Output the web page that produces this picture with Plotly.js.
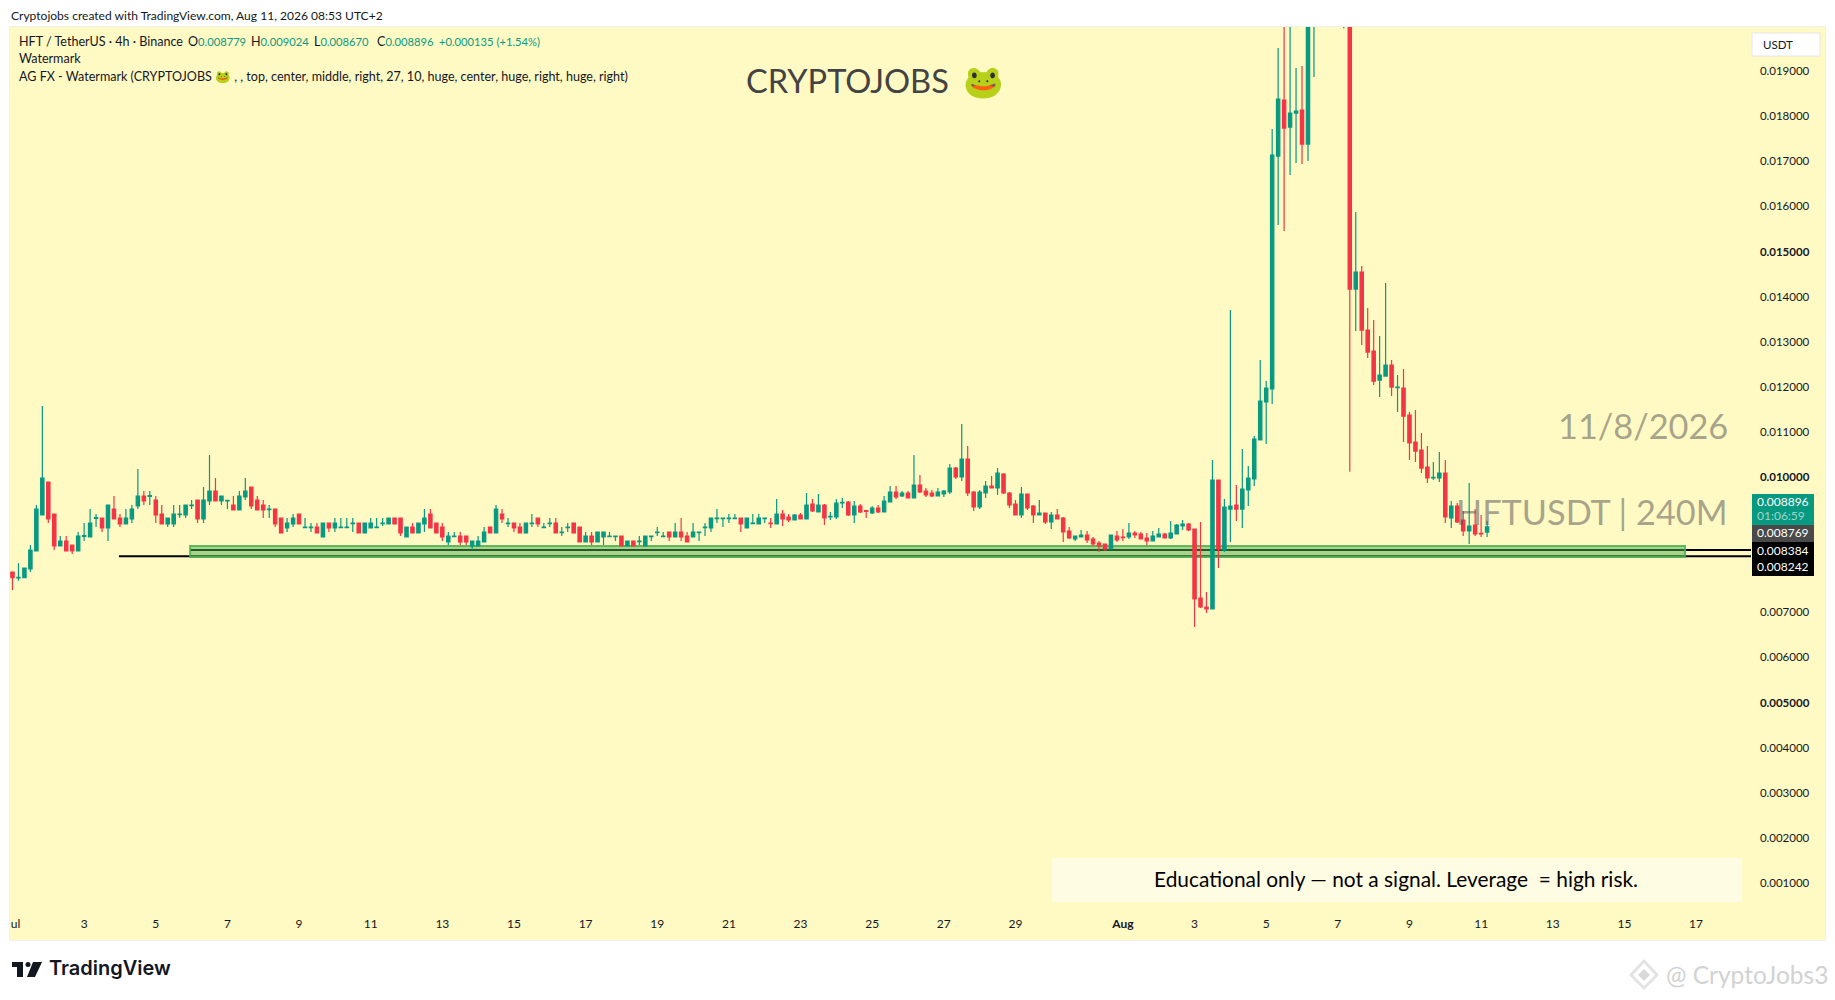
<!DOCTYPE html>
<html>
<head>
<meta charset="utf-8">
<script src="https://cdn.plot.ly/plotly-3.0.1.min.js"></script>
<style>html,body{margin:0;padding:0;background:#fff}#chart{width:1835px;height:1000px}</style>
</head>
<body>
<div id="chart"></div>
<script>
// Candle prices in millionths of a USDT, one candle every 4 hours from the first date
const firstCandle = '2026-07-01T00:00:00Z';
const opens = [
7894,7761,7768,7960,8359,9157,9889,9180,8470,8581,
8492,8359,8685,8670,9084,9091,8869,9290,9091,8958,
9069,9357,9579,9572,9490,9180,8958,8958,9165,9157,
9365,9490,9069,9468,9690,9468,9468,9379,9268,9557,
9778,9490,9379,9276,9290,9091,8869,8958,9180,8877,
8877,8891,8670,8980,8869,8877,8877,8966,8980,8758,
8869,8877,8966,8958,9091,9091,8670,8891,8758,8958,
9180,8980,8891,8559,8677,8692,8692,8470,8470,8559,
8891,8758,9180,8966,8980,8891,8758,8966,9091,8877,
8966,8980,8766,8877,8980,8891,8559,8692,8559,8670,
8677,8677,8692,8470,8581,8566,8470,8677,8766,8677,
8781,8670,8781,8692,8670,8766,8877,8869,9077,9077,
9077,9077,9091,8869,8966,8958,9077,8980,8958,9180,
9113,9047,9157,9069,9401,9224,9379,9113,9113,9424,
9446,9157,9357,9253,9202,9313,9224,9446,9667,9579,
9645,9534,9823,9690,9645,9579,9623,9667,10199,10000,
10399,9667,9335,9645,9800,9756,10066,9645,9401,9157,
9623,9357,9157,9202,9002,9157,9091,8803,8625,8670,
8714,8625,8537,8515,8404,8692,8670,8670,8758,8736,
8648,8581,8670,8736,8648,8736,8914,8958,8847,7317,
7118,7073,9933,8381,9290,9379,9290,9712,9956,10820,
11663,11951,17116,18358,17759,18070,18136,17383,22500,26000,
24500,28500,26500,24000,25500,14168,14545,13259,12793,12150,
12239,12483,11980,11973,11374,10776,10599,10222,9978,9978,
10089,9091,9357,9047,8803,8936,8751,8779];
const highs = [
7894,8086,7982,8492,9379,11574,9889,9180,8692,8692,
8492,8781,8980,9290,9180,9091,9379,9579,9180,9290,
9379,10177,9690,9690,9579,9379,9091,9379,9379,9379,
9490,9490,9778,10488,9978,9579,9490,9579,9690,9978,
9778,9579,9490,9379,9290,9091,9091,9180,9180,9091,
8980,8980,8980,8980,9091,9091,9091,9091,8980,8980,
9091,9091,9091,9091,9091,9091,8891,8980,8980,9290,
9290,8980,8980,8781,8781,8781,8692,8581,8692,8891,
8891,9379,9290,9091,8980,8980,8980,9180,9091,8980,
9091,9091,8891,8980,8980,8891,8781,8781,8781,8781,
8781,8692,8692,8581,8581,8692,8692,8692,8891,8781,
8781,8980,9091,8781,8980,8781,8980,9091,9290,9091,
9180,9180,9091,9091,9180,9180,9091,9091,9512,9268,
9180,9180,9202,9645,9512,9623,9401,9224,9512,9534,
9468,9468,9401,9268,9357,9379,9579,9800,9800,9690,
9690,10488,10044,9756,9712,9756,9712,10288,10222,11175,
10687,9690,9712,9911,10022,10199,10089,9667,9490,9778,
9623,9379,9490,9202,9224,9290,9113,8891,8692,8825,
8803,8670,8581,8515,8714,8803,8847,8980,8803,8781,
8758,8803,8869,8758,9024,8958,9047,8980,8847,9002,
7450,10377,9933,9512,13702,9823,10621,10244,10909,12594,
12128,17715,19511,20500,20800,19067,19112,24000,27500,29000,
30500,31000,28000,27500,26000,15875,14678,13747,13481,13126,
14301,12594,12261,12394,11441,11485,10975,10687,10332,10554,
10377,9468,9423,9246,9867,9290,9157,9024];
const lows = [
7495,7702,7768,7894,8359,9157,8980,8381,8470,8359,
8293,8359,8581,8670,8891,8781,8581,9069,8891,8958,
8980,9290,9379,9379,8980,8958,8891,8891,9091,9091,
9290,8980,8980,9379,9468,9379,9290,9268,9268,9490,
9290,9268,9091,9091,8891,8758,8781,8891,8958,8869,
8781,8758,8670,8781,8781,8869,8869,8781,8758,8758,
8869,8869,8914,8958,8958,8692,8670,8758,8758,8781,
8869,8758,8581,8492,8670,8492,8492,8381,8470,8559,
8758,8758,8980,8891,8781,8758,8758,8891,8891,8869,
8891,8758,8692,8781,8758,8559,8559,8492,8559,8492,
8670,8581,8470,8470,8470,8492,8470,8581,8692,8670,
8581,8670,8581,8559,8670,8581,8692,8781,8980,8891,
8980,9069,8781,8869,8958,8958,8980,8869,8958,8914,
9002,9047,9069,9069,9224,9224,8936,9047,9069,9313,
9135,8980,9202,9091,9180,9202,9224,9446,9512,9557,
9534,9534,9645,9557,9557,9579,9557,9623,9956,9911,
9579,9246,9290,9534,9756,9601,9623,9313,9157,9091,
9268,8980,9157,8958,8847,9069,8559,8625,8581,8670,
8537,8470,8337,8359,8404,8559,8581,8625,8648,8625,
8492,8581,8670,8648,8625,8736,8825,8803,6674,7096,
6985,7073,7982,8337,8559,9024,8869,9357,9800,10820,
10732,11618,15587,15454,16695,16961,16939,17006,18868,23500,
23800,25500,23000,19950,10118,13237,12926,12638,12040,11774,
12239,11796,11441,10776,10377,10332,10089,9867,9933,9889,
8980,8869,8980,8692,8515,8692,8670,8670];
const closes = [
7768,7776,7982,8381,9290,9978,9069,8470,8581,8359,
8359,8692,8699,8980,9098,8869,9379,9069,8958,9091,
9290,9579,9468,9586,9157,8958,9091,9180,9180,9379,
9379,9069,9490,9690,9468,9579,9482,9268,9579,9690,
9357,9268,9268,9290,8958,8758,8980,9091,8958,8891,
8891,8758,8980,8869,8980,8891,8891,8980,8758,8980,
8980,8891,8980,9091,8958,8758,8891,8758,8980,9091,
8869,8758,8670,8692,8692,8559,8559,8581,8581,8781,
8758,9290,9069,8980,8869,8758,8980,8980,8958,8891,
8980,8758,8781,8891,8758,8559,8692,8559,8781,8781,
8692,8692,8470,8581,8470,8581,8692,8692,8781,8692,
8670,8781,8670,8559,8781,8781,8891,9091,9091,9091,
9091,9091,8958,9091,8980,9091,9091,8966,9180,9069,
9047,9157,9069,9379,9246,9379,9091,9127,9423,9438,
9157,9357,9224,9239,9313,9224,9468,9667,9557,9645,
9534,9823,9667,9601,9579,9667,9690,10199,10000,10399,
9645,9335,9667,9800,9756,10089,9645,9379,9157,9623,
9313,9157,9202,9002,9157,9069,8781,8648,8692,8714,
8603,8515,8470,8404,8714,8603,8655,8758,8714,8625,
8581,8692,8736,8648,8758,8936,8958,8825,7295,7118,
7073,9933,8404,9335,9357,9290,9734,9978,10842,11685,
11973,17139,18380,17737,18070,18114,17383,22500,26000,24500,
28500,26500,24000,26000,14168,14545,13259,12771,12128,12261,
12483,11995,11995,11352,10754,10576,10199,9978,9992,10089,
9113,9357,9002,8803,8914,8736,8736,8896];

const priceTicks = [0.001,0.002,0.003,0.004,0.005,0.006,0.007,0.008,0.009,0.010,0.011,0.012,0.013,0.014,0.015,0.016,0.017,0.018,0.019];
const priceTickLabels = ['0.001000','0.002000','0.003000','0.004000','<b>0.005000</b>','0.006000','0.007000','','','<b>0.010000</b>','0.011000','0.012000','0.013000','0.014000','<b>0.015000</b>','0.016000','0.017000','0.018000','0.019000'];
const dateTicks = ['2026-07-01 02:00','2026-07-03','2026-07-05','2026-07-07','2026-07-09','2026-07-11','2026-07-13','2026-07-15','2026-07-17','2026-07-19','2026-07-21','2026-07-23','2026-07-25','2026-07-27','2026-07-29','2026-08-01','2026-08-03','2026-08-05','2026-08-07','2026-08-09','2026-08-11','2026-08-13','2026-08-15','2026-08-17'];
const dateTickLabels = ['ul','3','5','7','9','11','13','15','17','19','21','23','25','27','29','<b>Aug</b>','3','5','7','9','11','13','15','17'];
const zoneTop = 0.008470, zoneBottom = 0.008226;
const zoneStart = '2026-07-05 23:00', zoneEnd = '2026-08-16 16:36';
const levelUpper = 0.008384, levelLower = 0.008242;
const levelLowerStart = '2026-07-03 23:20', levelEnd = '2026-08-18 12:48';

const UP = '#089981', DOWN = '#F23645', BG = '#FFF9C4';
const FONT = 'Lato, "Noto Sans", sans-serif';
const L = 10, R = 1825, T = 27, B = 940;
const X = p => (p - L) / (R - L);
const Y = p => (B - p) / (B - T);
const scale = v => v / 1e6;
const times = opens.map((_, i) => new Date(Date.parse(firstCandle) + i * 4 * 3600e3).toISOString());

function box(x0, y0, x1, y1, fill, line) {
  return {type:'rect', xref:'paper', yref:'paper', x0:X(x0), x1:X(x1), y0:Y(y0), y1:Y(y1),
    fillcolor:fill, line:{color:line || 'rgba(0,0,0,0)', width:line ? 1 : 0}, layer:'above'};
}
function poly(points, fill) {
  const d = points.map((p, i) => (i ? 'L' : 'M') + X(p[0]) + ',' + Y(p[1])).join(' ') + ' Z';
  return {type:'path', xref:'paper', yref:'paper', path:d, fillcolor:fill, line:{width:0}, layer:'above'};
}
function label(text, px, py, size, color, anchor, extra) {
  return Object.assign({xref:'paper', yref:'paper', x:X(px), y:Y(py), text, showarrow:false,
    xanchor:anchor || 'left', yanchor:'middle', align:anchor || 'left',
    font:{family:FONT, size, color}, borderpad:0}, extra || {});
}
const g = s => '<span style="color:' + UP + ';font-size:11.2px">' + s + '</span>';

const shapes = [
  {type:'line', xref:'x', yref:'y', x0:levelLowerStart, x1:levelEnd, y0:levelLower, y1:levelLower, line:{color:'#000', width:2}, layer:'below'},
  {type:'line', xref:'x', yref:'y', x0:zoneStart, x1:levelEnd, y0:levelUpper, y1:levelUpper, line:{color:'#000', width:2}, layer:'below'},
  {type:'rect', xref:'x', yref:'y', x0:zoneStart, x1:zoneEnd, y0:zoneBottom, y1:zoneTop, fillcolor:'rgba(76,175,80,0.5)', line:{color:'rgba(76,175,80,0.85)', width:2}, layer:'below'},
  box(1052, 858, 1742, 902, '#FFFCE4'),
  box(1752, 33, 1820, 56, '#FFFFFF', '#E6E6E6'),
  box(1752, 494, 1814, 525, UP),
  box(1752, 525, 1814, 542, '#4A4A4A'),
  box(1752, 542, 1814, 576, '#000000'),
  // TradingView logo
  poly([[12,962],[23,962],[23,977],[17,977],[17,967],[12,967]], '#131722'),
  {type:'circle', xref:'paper', yref:'paper', x0:X(25.5), x1:X(30.5), y0:Y(967), y1:Y(962), fillcolor:'#131722', line:{width:0}, layer:'above'},
  poly([[33,962],[42,962],[35,977],[27,977]], '#131722'),
  // Faint mark of the re-poster
  poly([[1644,959],[1659,975],[1644,990],[1629,975]], '#E2E2E2'),
  poly([[1644,963],[1655,975],[1644,986],[1633,975]], '#FFFFFF'),
  poly([[1644,969],[1650,975],[1644,981],[1638,975]], '#D9D9D9')
];

const annotations = [
  label('Cryptojobs created with TradingView.com, Aug 11, 2026 08:53 UTC+2', 10, 15, 12.05, '#131722'),
  label('HFT / TetherUS · 4h · Binance', 18, 41, 12.55, '#131722'),
  label('O' + g('0.008779'), 186.6, 41, 12.55, '#131722'),
  label('H' + g('0.009024'), 250, 41, 12.55, '#131722'),
  label('L' + g('0.008670'), 313, 41, 12.55, '#131722'),
  label('C' + g('0.008896'), 376, 41, 12.55, '#131722'),
  label(g('+0.000135 (+1.54%)'), 438, 41, 12.55, UP),
  label('Watermark', 18, 59, 12.55, '#131722'),
  label('AG FX - Watermark (CRYPTOJOBS 🐸 , , top, center, middle, right, 27, 10, huge, center, huge, right, huge, right)', 18, 76, 12.55, '#131722'),
  label('CRYPTOJOBS', 745, 80, 32.6, '#434343'),
  label('🐸', 983, 80, 32.6, '#434343', 'center'),
  label('11/8/2026', 1729, 425, 34.3, 'rgba(80,80,80,0.5)', 'right'),
  label('HFTUSDT | 240M', 1729, 512, 34.3, 'rgba(80,80,80,0.5)', 'right'),
  label('Educational only — not a signal. Leverage\u00a0 = high risk.', 1396, 878, 20.9, '#000000', 'center'),
  label('USDT', 1762, 44, 11.5, '#131722'),
  label('0.008896', 1756, 501, 12, '#FFFFFF'),
  label('01:06:59', 1756, 515, 12, 'rgba(255,255,255,0.6)'),
  label('0.008769', 1756, 532, 12, '#FFFFFF'),
  label('0.008384', 1756, 550, 12, '#FFFFFF'),
  label('0.008242', 1756, 566, 12, '#FFFFFF'),
  label('TradingView', 48, 968, 20, '#131722', 'left', {font:{family:'Inter, ' + FONT, size:20, color:'#131722', weight:600}}),
  label('@ CryptoJobs3', 1665, 974, 24.5, '#D2D2D2')
];

const trace = {
  type:'candlestick',
  x:times,
  open:opens.map(scale), high:highs.map(scale), low:lows.map(scale), close:closes.map(scale),
  increasing:{line:{color:UP, width:1.2}, fillcolor:UP},
  decreasing:{line:{color:DOWN, width:1.2}, fillcolor:DOWN},
  whiskerwidth:0,
  hoverinfo:'skip'
};

const layout = {
  width:1835, height:1000,
  margin:{l:L, r:1835 - R, t:T, b:1000 - B, pad:0},
  paper_bgcolor:'#FFFFFF', plot_bgcolor:BG,
  showlegend:false, hovermode:false, boxgap:0.2,
  font:{family:FONT, size:12, color:'#131722'},
  xaxis:{
    type:'date', range:['2026-06-30 22:20:00','2026-08-20 14:24:00'],
    rangeslider:{visible:false}, showgrid:false, zeroline:false, showline:true, linecolor:'#F0F0F0', linewidth:1, mirror:true,
    tickmode:'array', tickvals:dateTicks, ticktext:dateTickLabels, ticks:'',
    ticklabelposition:'inside', ticklabelstandoff:9, tickfont:{size:12, color:'#131722'}
  },
  yaxis:{
    type:'linear', side:'right', range:[-0.000266, 0.019978], autorange:false,
    showgrid:false, zeroline:false, showline:true, linecolor:'#F0F0F0', linewidth:1, mirror:true,
    tickmode:'array', tickvals:priceTicks, ticktext:priceTickLabels, ticks:'',
    ticklabelposition:'inside', ticklabelstandoff:15, tickfont:{size:11.5, color:'#131722'}
  },
  shapes, annotations
};

Plotly.newPlot('chart', [trace], layout, {displayModeBar:false, staticPlot:true});
</script>
</body>
</html>
